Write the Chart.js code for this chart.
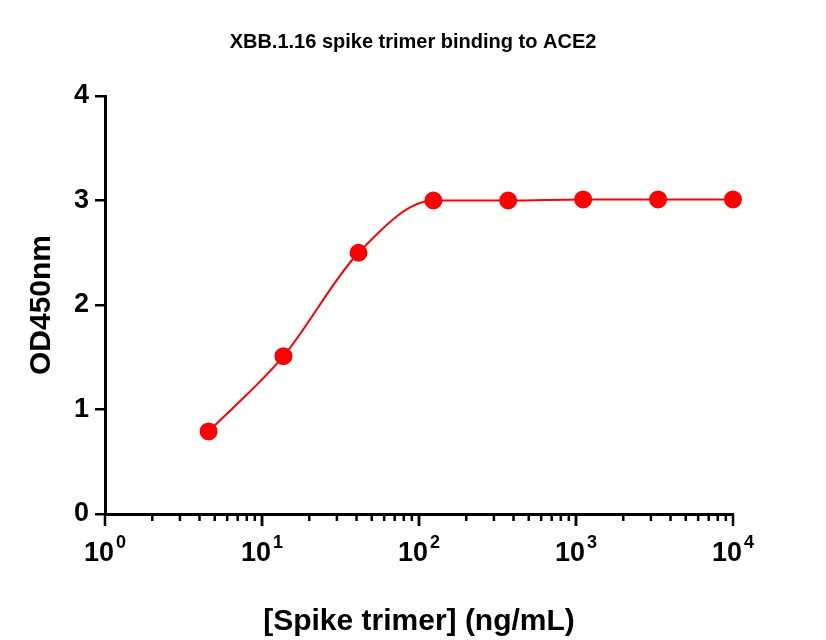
<!DOCTYPE html>
<html><head><meta charset="utf-8">
<script src="https://cdn.jsdelivr.net/npm/chart.js@4.4.0/dist/chart.umd.min.js"></script>
<style>html,body{margin:0;background:#fff}#w{width:826px;height:640px}</style>
</head><body><div id="w"><canvas id="c"></canvas></div>
<script>
const concentrations = [4.57, 13.7, 41.2, 123.5, 370, 1111, 3333, 10000];
const od450 = [0.79, 1.51, 2.50, 3.00, 3.00, 3.01, 3.01, 3.01];
const xTickExponents = [0,1,2,3,4];
const yTicks = [0,1,2,3,4];
const chartTitle = 'XBB.1.16 spike trimer binding to ACE2';
const F='"Liberation Sans", Arial, sans-serif';

const extras = {
  id:'extras',
  afterDraw(chart){
    const ctx=chart.ctx, xs=chart.scales.x, y0=chart.chartArea.bottom;
    ctx.save(); ctx.strokeStyle='#000'; ctx.lineWidth=2.5;
    for(let p=0;p<4;p++) for(let m=1;m<=10;m++){
      const v=m*Math.pow(10,p); const px=xs.getPixelForValue(v);
      const major=(m===1||m===10);
      ctx.beginPath(); ctx.moveTo(px,y0); ctx.lineTo(px,y0+(major?12:7)); ctx.stroke();
    }
    ctx.fillStyle='#000'; ctx.textBaseline='alphabetic';
    xTickExponents.forEach(e=>{
      const px=xs.getPixelForValue(Math.pow(10,e));
      ctx.font='bold 27px '+F; const w1=ctx.measureText('10').width;
      ctx.font='bold 18px '+F; const w2=ctx.measureText(String(e)).width;
      const x0=px-(w1+w2+2)/2;
      ctx.font='bold 27px '+F; ctx.textAlign='left'; ctx.fillText('10',x0,561);
      ctx.font='bold 18px '+F; ctx.fillText(String(e),x0+w1+2,548);
    });
    ctx.font='bold 20px '+F; ctx.textAlign='center'; ctx.textBaseline='middle';
    ctx.fillText(chartTitle,413,42);
    ctx.restore();
  }
};
new Chart(document.getElementById('c'),{
  type:'scatter',
  data:{datasets:[{
    data:concentrations.map((x,i)=>({x,y:od450[i]})),
    showLine:true, cubicInterpolationMode:'monotone', clip:false,
    borderColor:'#f00', borderWidth:2, backgroundColor:'#f00',
    pointRadius:8, pointHoverRadius:8
  }]},
  plugins:[extras],
  options:{
    responsive:true, maintainAspectRatio:false, animation:false,
    layout:{padding:{right:93,top:96}},
    plugins:{legend:{display:false},tooltip:{enabled:false},title:{display:false}},
    scales:{
      x:{type:'logarithmic',min:1,max:10000,
        border:{color:'#000',width:3},
        grid:{display:false,drawOnChartArea:false},
        afterBuildTicks(s){s.ticks=xTickExponents.map(e=>({value:Math.pow(10,e)}));},
        ticks:{color:'#000',font:{family:F,size:27,weight:'bold'},padding:14,maxRotation:0,
          callback:()=>''},
        title:{display:true,text:'[Spike trimer] (ng/mL)',color:'#000',
          font:{family:F,size:30,weight:'bold'},padding:{top:0,bottom:0}},
        afterFit(s){s.height=126;}
      },
      y:{min:0,max:4,
        border:{color:'#000',width:3},
        grid:{drawOnChartArea:false,color:'#000',lineWidth:2.5,tickLength:10},
        afterBuildTicks(s){s.ticks=yTicks.map(v=>({value:v}));},
        ticks:{color:'#000',font:{family:F,size:27,weight:'bold'},padding:6},
        title:{display:true,text:'OD450nm',color:'#000',
          font:{family:F,size:30,weight:'bold'},padding:{top:24,bottom:4}},
        afterFit(s){s.width=105;}
      }
    }
  }
});
</script></body></html>
